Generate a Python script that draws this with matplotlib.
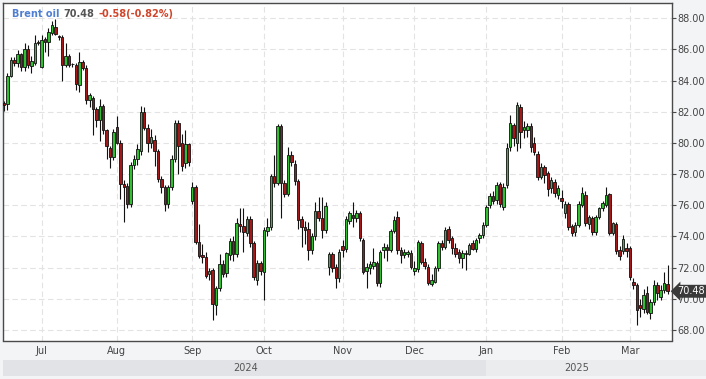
import matplotlib
matplotlib.use('Agg')
import matplotlib.pyplot as plt
from matplotlib.patches import Rectangle
from matplotlib.transforms import blended_transform_factory

# Brent oil daily candles, 14 Jun 2024 .. 18 Mar 2025 (one entry per trading day)
opens = [
    82.55, 82.48, 84.30, 85.30, 85.10, 85.70, 84.90, 86.05, 84.95, 85.10, 86.45,
    84.90, 86.65, 86.50, 87.05, 87.45, 86.85, 86.80, 85.00, 85.60, 85.05, 85.00,
    83.70, 85.20, 84.80, 82.75, 82.90, 82.20, 81.50, 82.40, 80.80, 79.70, 79.10,
    81.05, 80.00, 77.35, 77.25, 76.10, 78.60, 78.95, 79.50, 82.00, 80.95, 80.00,
    80.20, 79.45, 77.70, 77.20, 76.10, 77.20, 79.00, 81.25, 80.00, 78.70, 79.90,
    76.30, 77.20, 73.67, 72.80, 72.70, 71.60, 71.85, 69.60, 70.70, 72.20, 71.64,
    72.80, 73.73, 72.85, 74.80, 74.67, 74.20, 75.10, 73.56, 71.20, 72.27,
    71.74, 74.37, 74.59, 77.90, 77.45, 81.09, 77.45, 76.73, 79.23, 78.65, 77.58,
    75.10, 74.63, 74.46, 73.13, 74.03, 75.60, 75.16, 74.41, 72.06, 72.90, 72.06,
    71.30,
    73.40, 73.17, 75.00, 75.40, 75.16, 75.48, 73.77, 71.80, 72.00, 72.10, 72.27,
    71.00, 73.10, 73.30, 73.13, 74.37, 75.27, 73.13, 72.81, 72.90, 72.95,
    71.80, 71.90, 73.60, 72.38, 72.06, 70.95, 71.10, 71.95, 73.56, 73.34, 74.46,
    73.88, 73.24, 73.00, 72.60, 72.96, 72.90, 73.60, 73.17, 73.88, 74.10,
    74.74, 76.02, 76.60, 76.34, 77.37, 75.87, 77.30, 79.76, 81.15, 79.98, 82.33,
    80.80, 80.85, 81.09, 80.00, 79.29, 77.84, 78.48, 78.05, 77.10, 77.50, 76.66,
    76.49, 75.50, 76.08, 74.67, 74.26, 74.74, 76.02, 76.66, 74.80, 75.16, 74.30,
    75.27, 75.80, 76.02, 76.73, 74.20, 74.80, 73.13, 73.09, 73.24,
    73.24, 71.10, 70.89, 69.60, 69.32, 70.35, 69.07, 69.80, 70.89, 70.14, 70.56,
    70.95,
]
highs = [
    82.70, 84.50, 85.50, 85.50, 85.95, 85.80, 86.40, 86.30, 85.60, 86.90, 86.60,
    86.90, 86.80, 87.40, 87.80, 87.95, 86.95, 86.90, 86.40, 85.70, 85.15, 85.10,
    85.85, 85.30, 85.00, 83.20, 83.00, 82.30, 82.80, 82.50, 80.90, 79.80, 80.90,
    81.70, 80.20, 77.60, 77.40, 78.80, 79.20, 79.90, 82.40, 82.30, 81.20, 80.90,
    80.50, 79.60, 77.90, 77.30, 77.30, 79.20, 81.50, 81.50, 80.60, 80.80, 80.00,
    77.50, 77.30, 74.80, 73.50, 73.00, 71.95, 72.00, 70.80, 72.87, 72.50, 73.00,
    73.90, 74.00, 75.16, 75.80, 75.80, 75.30, 75.30, 73.70, 72.50, 72.40,
    74.60, 75.20, 78.00, 79.20, 81.20, 81.20, 77.60, 79.76, 79.50, 78.90, 77.70,
    75.30, 75.00, 74.90, 74.20, 76.23, 76.50, 76.55, 76.20, 73.00, 73.00, 72.20,
    73.20,
    73.80, 75.30, 75.60, 76.23, 75.70, 75.60, 73.90, 72.30, 72.40, 73.24, 72.40,
    73.10, 73.60, 73.50, 74.50, 75.30, 75.60, 73.30, 73.20, 73.10, 73.10,
    72.40, 73.80, 73.70, 72.60, 72.20, 71.60, 72.10, 73.70, 73.80, 74.60, 74.70,
    74.00, 73.60, 73.20, 73.10, 73.10, 73.60, 73.80, 73.90, 74.20, 74.90,
    76.00, 76.80, 76.90, 77.50, 77.50, 77.40, 80.00, 81.80, 81.30, 82.65, 82.50,
    81.40, 81.30, 81.30, 80.40, 79.50, 78.70, 78.60, 78.20, 77.80, 77.70, 77.30,
    77.00, 76.30, 76.20, 74.80, 74.90, 76.30, 77.20, 76.90, 75.40, 75.30, 75.40,
    75.90, 76.30, 77.20, 76.80, 74.95, 74.90, 73.40, 74.10, 73.60,
    73.40, 71.30, 71.00, 70.00, 70.60, 70.80, 70.00, 71.20, 71.10, 70.90, 71.74,
    72.17,
]
lows = [
    82.05, 82.10, 84.20, 84.95, 84.90, 84.60, 84.60, 84.80, 84.50, 85.00, 86.30,
    84.80, 85.85, 85.60, 86.90, 86.90, 86.60, 84.00, 84.90, 84.90, 84.90, 83.40,
    83.30, 84.70, 82.50, 82.30, 80.50, 81.00, 80.10, 80.60, 79.00, 78.40, 78.90,
    79.90, 76.40, 74.95, 75.80, 75.90, 78.30, 78.60, 79.20, 80.80, 79.40, 79.70,
    78.55, 77.50, 76.80, 75.65, 75.80, 77.00, 78.80, 78.00, 78.20, 78.40, 78.50,
    76.10, 73.50, 72.60, 72.30, 71.30, 71.20, 68.64, 68.96, 70.50, 71.40, 71.40,
    72.50, 72.40, 72.70, 74.30, 73.00, 74.00, 73.30, 71.20, 70.90, 71.50,
    69.90, 74.00, 74.40, 77.20, 77.30, 75.20, 76.50, 76.60, 78.50, 77.30, 74.50,
    73.34, 73.50, 72.50, 72.90, 73.80, 75.00, 73.90, 74.20, 71.50, 71.70, 70.67,
    71.10,
    72.70, 73.00, 74.80, 74.60, 74.90, 73.70, 71.60, 70.67, 71.60, 71.90, 70.80,
    70.78, 72.60, 72.40, 73.00, 74.20, 72.90, 72.30, 72.60, 72.70, 71.90,
    71.50, 71.70, 72.20, 71.90, 70.90, 70.80, 71.00, 71.80, 73.10, 73.20, 73.60,
    72.90, 72.70, 72.30, 72.00, 71.85, 72.80, 73.10, 73.00, 73.60, 73.90,
    74.60, 75.80, 76.10, 76.10, 75.90, 75.70, 77.10, 79.50, 79.80, 79.50, 79.66,
    80.30, 80.40, 79.40, 79.20, 77.60, 77.70, 77.40, 76.60, 76.80, 76.50, 76.40,
    75.80, 75.20, 74.40, 74.00, 74.00, 74.60, 75.90, 74.70, 74.50, 74.10, 74.10,
    75.10, 75.60, 75.90, 74.10, 74.10, 72.90, 72.50, 72.90, 72.70,
    71.20, 70.60, 68.32, 68.85, 69.10, 69.00, 68.70, 69.60, 69.90, 69.90, 70.40,
    70.30,
]
closes = [
    82.42, 84.30, 85.33, 85.10, 85.71, 84.90, 86.01, 85.01, 85.25, 86.39, 86.41,
    86.60, 86.45, 87.10, 87.60, 87.00, 86.80, 85.00, 85.55, 85.00, 85.05, 83.80,
    85.20, 84.80, 82.75, 83.10, 82.20, 81.50, 82.40, 80.80, 79.80, 79.10, 80.70,
    80.00, 77.35, 77.20, 76.10, 78.60, 78.95, 79.60, 82.00, 80.95, 80.00, 80.40,
    79.45, 77.70, 77.20, 76.10, 77.20, 79.00, 81.25, 79.80, 78.50, 79.90, 78.80,
    77.20, 73.67, 72.75, 72.70, 71.46, 71.80, 69.66, 70.70, 72.20, 71.60, 72.92,
    73.70, 72.85, 74.84, 74.70, 74.30, 75.10, 73.56, 71.38, 72.27, 71.75,
    74.40, 74.60, 77.88, 77.45, 81.09, 77.40, 76.73, 79.23, 78.80, 77.58, 75.06,
    74.63, 74.40, 73.13, 74.03, 75.60, 75.16, 74.41, 75.95, 72.90, 71.95, 71.30,
    73.00,
    73.10, 75.10, 75.48, 75.16, 75.48, 73.88, 71.74, 72.06, 72.20, 72.38, 70.99,
    73.00, 73.30, 73.13, 74.37, 75.06, 73.13, 72.81, 73.00, 73.00, 72.06,
    72.00, 73.67, 72.38, 72.10, 71.00, 71.20, 71.95, 73.60, 73.34, 74.41, 73.77,
    73.24, 72.90, 72.60, 72.96, 72.90, 73.45, 73.20, 73.77, 74.10, 74.75,
    75.87, 76.60, 76.30, 77.30, 76.10, 77.20, 79.67, 81.26, 80.30, 82.44, 80.73,
    81.05, 81.09, 79.76, 79.44, 77.84, 78.48, 77.94, 77.02, 77.60, 76.80, 77.10,
    76.28, 76.08, 74.63, 74.20, 74.74, 76.08, 76.77, 74.89, 75.27, 74.30, 75.27,
    75.80, 76.13, 76.66, 74.20, 74.89, 73.09, 72.74, 73.82, 73.09,
    71.38, 70.89, 69.28, 69.39, 70.24, 69.17, 69.80, 70.89, 70.35, 70.56, 71.03,
    70.48,
]

# first trading day of each month (position in the lists above)
month_pos = [11, 33, 55, 76, 99, 120, 141, 163, 183]
month_labels = ['Jul', 'Aug', 'Sep', 'Oct', 'Nov', 'Dec', 'Jan', 'Feb', 'Mar']
years = ['2024', '2025']
last_price = 70.48
change_txt = '-0.58(-0.82%)'
y_ticks = [68, 70, 72, 74, 76, 78, 80, 82, 84, 86, 88]

up_col = '#2fbf2f'
down_col = '#a3191a'
grid_col = '#e3e3e3'
axis_col = '#4a4a4a'

fig = plt.figure(figsize=(7.06, 3.79), dpi=100, facecolor='#f3f4f6')
ax = fig.add_axes([3/706, 38.5/379, 669/706, 337.5/379])
ax.set_facecolor('white')

n = len(closes)
xs = list(range(n))
body_bottom = [min(o, c) for o, c in zip(opens, closes)]
body_h = [max(abs(c - o), 0.03) for o, c in zip(opens, closes)]
colors = [up_col if c >= o else down_col for o, c in zip(opens, closes)]

# wicks then bodies
ax.vlines(xs, lows, highs, color='#111111', lw=0.8, zorder=2)
ax.bar(xs, body_h, bottom=body_bottom, width=0.72, color=colors,
       edgecolor='#111111', linewidth=0.6, zorder=3)

ax.set_xlim(-0.3, 195.3)
ax.set_ylim(67.32, 88.98)

# grid
for v in y_ticks:
    ax.axhline(v, color=grid_col, lw=0.8, ls=(0, (5, 3)), zorder=0)
for p in month_pos:
    ax.axvline(p, color=grid_col, lw=0.8, ls=(0, (5, 3)), zorder=0)

# axes / ticks
for s in ax.spines.values():
    s.set_color(axis_col)
    s.set_linewidth(1.0)
ax.yaxis.tick_right()
ax.set_yticks(y_ticks)
ax.set_yticklabels(['%.2f' % v for v in y_ticks])
ax.tick_params(axis='y', length=3, width=0.8, color=axis_col, pad=1,
               labelsize=7, labelcolor='#444444')
ax.set_xticks(month_pos)
ax.set_xticklabels(month_labels)
ax.tick_params(axis='x', length=0, pad=4, labelsize=7, labelcolor='#444444')

# year band under the month labels
tr = blended_transform_factory(ax.transData, fig.transFigure)
band_y0, band_h = 3/379, 16/379
ax.add_patch(Rectangle((-0.3, band_y0), month_pos[6] + 0.3, band_h, transform=tr,
                       facecolor='#e2e3e6', edgecolor='none', clip_on=False))
ax.add_patch(Rectangle((month_pos[6], band_y0), 80, band_h, transform=tr,
                       facecolor='#ebecee', edgecolor='none', clip_on=False))
ax.text(month_pos[6] / 2, band_y0 + band_h / 2, years[0], transform=tr,
        ha='center', va='center', fontsize=7, color='#555555', clip_on=False)
ax.text((month_pos[6] + n - 1) / 2, band_y0 + band_h / 2, years[1], transform=tr,
        ha='center', va='center', fontsize=7, color='#555555', clip_on=False)

# last price tag on the right axis
ax.annotate('%.2f' % last_price, xy=(1, last_price),
            xycoords=('axes fraction', 'data'), xytext=(4, 0),
            textcoords='offset points', ha='left', va='center',
            fontsize=7, color='white', annotation_clip=False, zorder=5,
            bbox=dict(boxstyle='larrow,pad=0.15', fc='#3a3a3a', ec='none'))

# title made of three coloured parts
fig.canvas.draw()
r = fig.canvas.get_renderer()
x0 = 12/706
ty = 1 - 14/379
parts = [('Brent oil', '#4f7fd3'), ('%.2f' % last_price, '#555555'),
         (change_txt, '#d0452b')]
for txt, col in parts:
    t = fig.text(x0, ty, txt, color=col, fontsize=7, fontweight='bold',
                 va='center', ha='left')
    bb = t.get_window_extent(renderer=r)
    x0 = (bb.x1 + 4) / fig.bbox.width

fig.savefig('out.png', dpi=100, facecolor=fig.get_facecolor())
